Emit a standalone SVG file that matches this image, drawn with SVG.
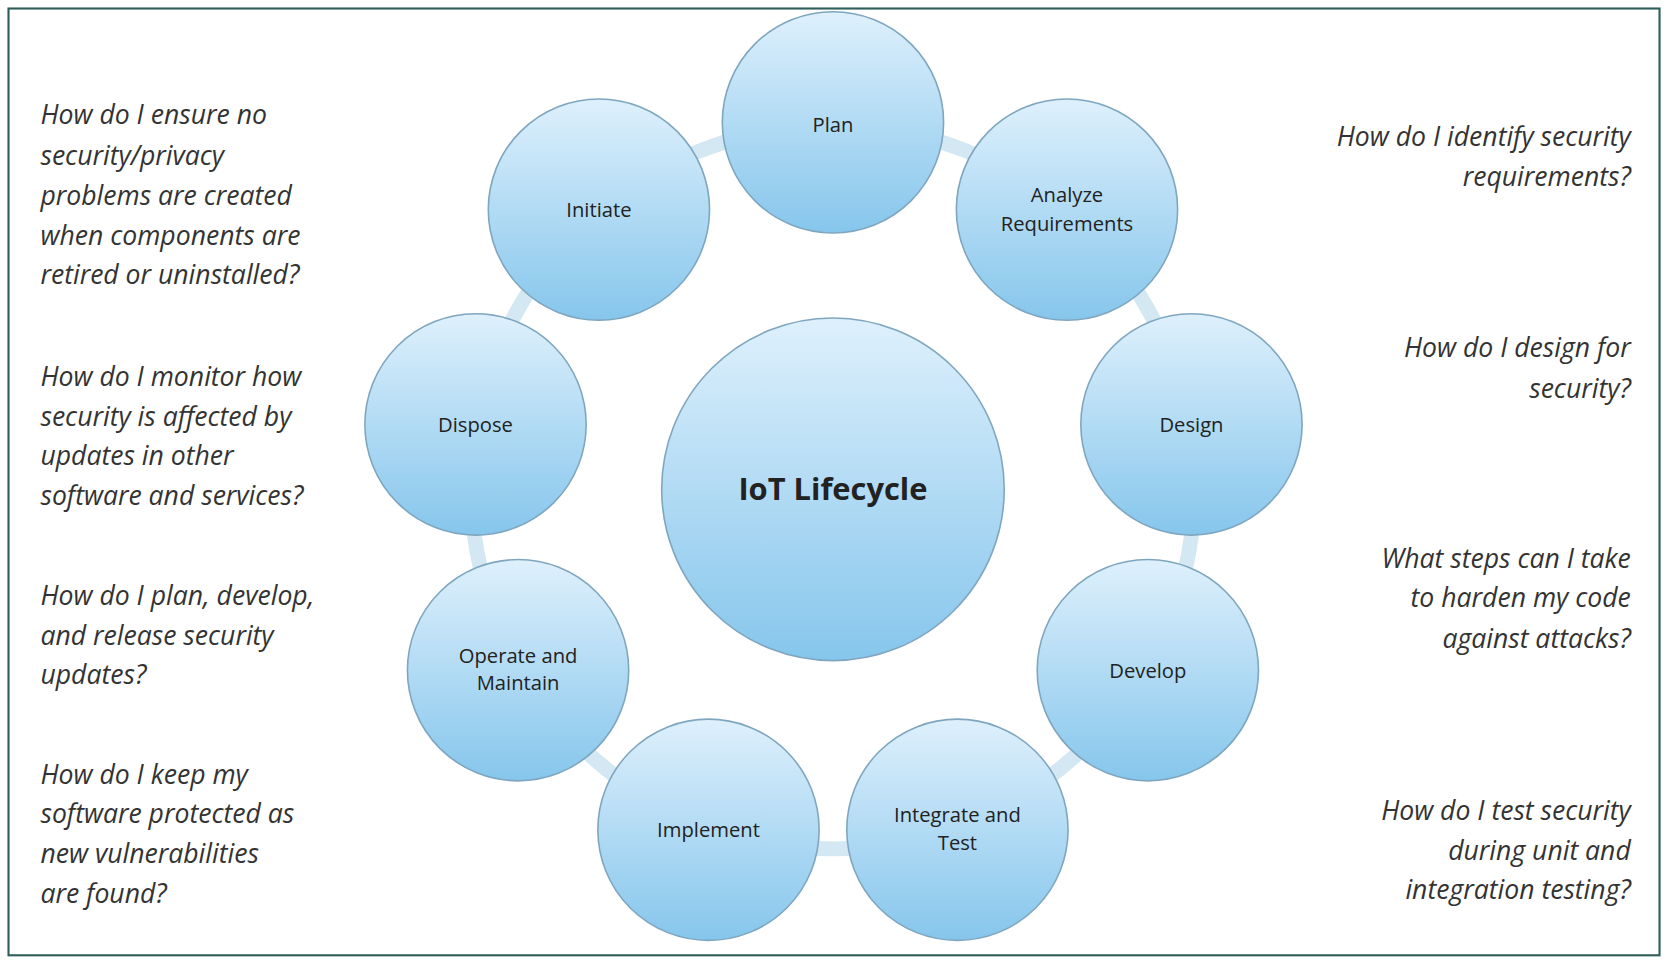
<svg xmlns="http://www.w3.org/2000/svg" width="1667" height="963" viewBox="0 0 1667 963">
<defs>
<linearGradient id="g" x1="0" y1="0" x2="0" y2="1">
<stop offset="0" stop-color="#def0fc"/>
<stop offset="1" stop-color="#86c6ec"/>
</linearGradient>
<style>
.n{fill:url(#g);stroke:#7fa6bf;stroke-width:1.5}
.l{font-family:"Open Sans","Liberation Sans",sans-serif;font-size:19px;fill:#222;text-anchor:middle}
.q{font-family:"Open Sans","Liberation Sans",sans-serif;font-size:25px;font-style:italic;fill:#333}
.r{text-anchor:end}
</style>
</defs>
<rect width="1667" height="963" fill="#fff"/>
<g transform="scale(1.0638)">
<rect x="8" y="8" width="1552" height="890" fill="none" stroke="#2f5f5a" stroke-width="2"/>
<g id="connectors"><circle cx="783" cy="458" r="340" fill="none" stroke="#d4e8f3" stroke-width="14"/></g>
<g id="center"><circle class="n" cx="783" cy="460" r="161"/><text class="l" x="783" y="470" style="font-size:29px;font-weight:bold">IoT Lifecycle</text></g>
<g id="plan"><circle class="n" cx="783" cy="115" r="104"/><text class="l" x="783" y="124">Plan</text></g>
<g id="analyze"><circle class="n" cx="1003" cy="197" r="104"/><text class="l" x="1003" y="190">Analyze</text><text class="l" x="1003" y="217">Requirements</text></g>
<g id="design"><circle class="n" cx="1120" cy="399" r="104"/><text class="l" x="1120" y="406">Design</text></g>
<g id="develop"><circle class="n" cx="1079" cy="630" r="104"/><text class="l" x="1079" y="637">Develop</text></g>
<g id="integrate"><circle class="n" cx="900" cy="780" r="104"/><text class="l" x="900" y="773">Integrate and</text><text class="l" x="900" y="799">Test</text></g>
<g id="implement"><circle class="n" cx="666" cy="780" r="104"/><text class="l" x="666" y="787">Implement</text></g>
<g id="operate"><circle class="n" cx="487" cy="630" r="104"/><text class="l" x="487" y="623">Operate and</text><text class="l" x="487" y="649">Maintain</text></g>
<g id="dispose"><circle class="n" cx="447" cy="399" r="104"/><text class="l" x="447" y="406">Dispose</text></g>
<g id="initiate"><circle class="n" cx="563" cy="197" r="104"/><text class="l" x="563" y="204">Initiate</text></g>
<g id="questions-left">
<text class="q" x="38" y="117">How do I ensure no</text>
<text class="q" x="38" y="155">security/privacy</text>
<text class="q" x="38" y="193">problems are created</text>
<text class="q" x="38" y="230">when components are</text>
<text class="q" x="38" y="267">retired or uninstalled?</text>
<text class="q" x="38" y="363">How do I monitor how</text>
<text class="q" x="38" y="400">security is affected by</text>
<text class="q" x="38" y="437">updates in other</text>
<text class="q" x="38" y="475">software and services?</text>
<text class="q" x="38" y="569">How do I plan, develop,</text>
<text class="q" x="38" y="606">and release security</text>
<text class="q" x="38" y="643">updates?</text>
<text class="q" x="38" y="737">How do I keep my</text>
<text class="q" x="38" y="774">software protected as</text>
<text class="q" x="38" y="811">new vulnerabilities</text>
<text class="q" x="38" y="849">are found?</text>
</g>
<g id="questions-right">
<text class="q r" x="1533" y="137">How do I identify security</text>
<text class="q r" x="1533" y="175">requirements?</text>
<text class="q r" x="1533" y="336">How do I design for</text>
<text class="q r" x="1533" y="374">security?</text>
<text class="q r" x="1533" y="534">What steps can I take</text>
<text class="q r" x="1533" y="571">to harden my code</text>
<text class="q r" x="1533" y="609">against attacks?</text>
<text class="q r" x="1533" y="771">How do I test security</text>
<text class="q r" x="1533" y="808">during unit and</text>
<text class="q r" x="1533" y="845">integration testing?</text>
</g>
</g>
</svg>
